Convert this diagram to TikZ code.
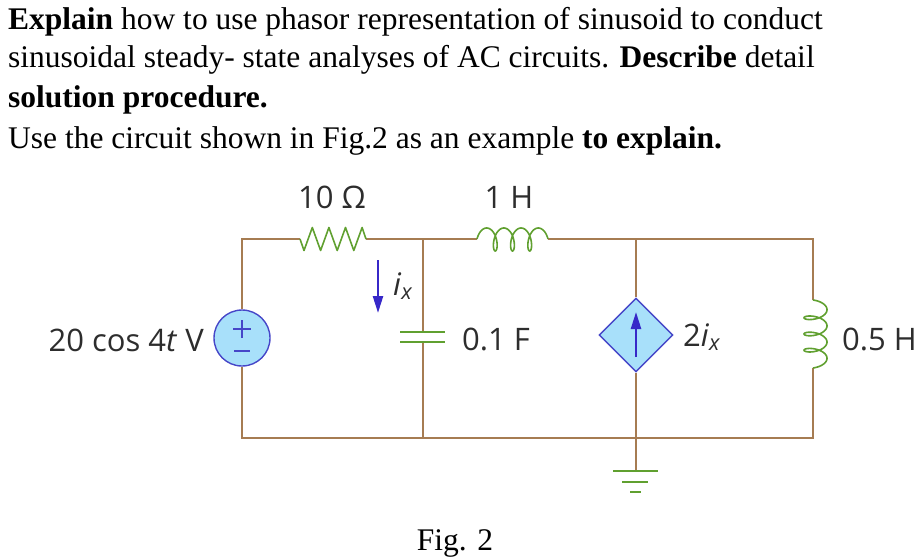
\documentclass[tikz,border=0pt]{standalone}
\usepackage{fontspec}
\setmainfont{Liberation Serif}
\newfontfamily\circfont{Open Sans}
\usetikzlibrary{arrows.meta,shapes.geometric}
\definecolor{wirecol}{RGB}{166,124,82}
\definecolor{partcol}{RGB}{96,160,48}
\definecolor{srcfill}{RGB}{168,224,250}
\definecolor{srcline}{RGB}{70,70,200}
\definecolor{arrcol}{RGB}{55,40,200}
\definecolor{lblcol}{RGB}{45,45,45}
\begin{document}
\begin{tikzpicture}[x=1pt,y=-1pt]
    \useasboundingbox (0,0) rectangle (923,558);

    % question text
    \begin{scope}[every node/.style={anchor=base west, inner sep=0pt, font=\fontsize{31.5}{31.5}\selectfont}]
        \node (q1) at (8,29) {\textbf{Explain} how to use phasor representation of sinusoid to conduct};
        \node (q2) at (8,67) {sinusoidal steady- state analyses of AC circuits. \textbf{Describe} detail};
        \node (q3) at (8,107) {\textbf{solution procedure.}};
        \node (q4) at (8,148) {Use the circuit shown in Fig.2 as an example \textbf{to explain.}};
        \node[anchor=base] (cap) at (455,550) {Fig. 2};
    \end{scope}

    % junctions
    \coordinate (tl) at (242,239);
    \coordinate (tm) at (423,239);
    \coordinate (td) at (636,239);
    \coordinate (tr) at (813,239);
    \coordinate (bl) at (242,438);
    \coordinate (bm) at (423,438);
    \coordinate (bd) at (636,438);
    \coordinate (br) at (813,438);
    \coordinate (r1a) at (300,239);
    \coordinate (r1b) at (366,239);
    \coordinate (l1a) at (477,239);
    \coordinate (l1b) at (548,239);
    \coordinate (l2a) at (813,300);
    \coordinate (l2b) at (813,368);
    \coordinate (c1a) at (423,332);
    \coordinate (c1b) at (423,342);
    \coordinate (gnd) at (636,471);

    % sources
    \node[circle, draw=srcline, fill=srcfill, line width=1.4pt, minimum size=56pt, inner sep=0pt] (vs) at (242,338) {};
    \node[diamond, draw=srcline, fill=srcfill, line width=1.4pt, minimum width=74pt, minimum height=74pt, inner sep=0pt] (dep) at (636,335) {};
    \draw[srcline, line width=1.4pt] (233,329) -- (251,329) (242,320) -- (242,338) (234,351) -- (250,351);

    % wires
    \begin{scope}[every path/.style={draw=wirecol, line width=1.6pt}]
        \path (vs.north) -- (tl) -- (r1a);
        \path (r1b) -- (tm) -- (l1a);
        \path (l1b) -- (tr) -- (l2a);
        \path (l2b) -- (br) -- (bl) -- (vs.south);
        \path (tm) -- (c1a);
        \path (c1b) -- (bm);
        \path (td) -- (dep.north);
        \path (dep.south) -- (bd) -- (gnd);
    \end{scope}

    % parts
    \begin{scope}[every path/.style={draw=partcol, line width=1.6pt, line join=round}]
        \path (r1a) -- ++(4,11.5) \foreach \k in {1,2,3} { -- ++(8.3,-23) -- ++(8.3,23) } -- ++(8.3,-23) -- (r1b);
        \path plot[domain=92.5:1347.5, samples=260, variable=\t] ({477 + 2.74*(\t-92.5)*pi/180 - 5.48*(sin(\t)-0.999)}, {239.5 + 11.5*cos(\t)});
        \path plot[domain=77.4:1362.6, samples=260, variable=\t] ({815.5 - 11.5*cos(\t)}, {300 + 2.58*(\t-77.4)*pi/180 - 5.17*(sin(\t)-0.976)});
        \path (400,332) -- (445,332);
        \path (400,342) -- (445,342);
        \path (613,471) -- (658,471);
        \path (622,482) -- (648,482);
        \path (630,492) -- (641,492);
    \end{scope}

    % current arrows
    \coordinate (ixa) at (378,260);
    \coordinate (ixb) at (378,313);
    \coordinate (dpa) at (636,357);
    \coordinate (dpb) at (636,312);
    \draw[arrcol, line width=2.4pt, -{Triangle[length=17pt,width=10pt]}] (ixa) -- (ixb);
    \draw[arrcol, line width=2.4pt, -{Triangle[length=17pt,width=10pt]}] (dpa) -- (dpb);

    % labels
    \begin{scope}[every node/.style={inner sep=0pt, text=lblcol, font=\circfont\fontsize{31}{31}\selectfont}]
        \node (lres) at (332,197) {10 Ω};
        \node (lind) at (509,197) {1 H};
        \node[anchor=west] (lcap) at (462,339) {0.1 F};
        \node[anchor=west] (ldep) at (683,337) {2\textit{i}\textsubscript{\textit{x}}};
        \node[anchor=west] (lind2) at (842,339) {0.5 H};
        \node[anchor=east] (lsrc) at (204,340) {20 cos 4\textit{t} V};
        \node[anchor=west] (lix) at (393,286) {\textit{i}\textsubscript{\textit{x}}};
    \end{scope}
\end{tikzpicture}
\end{document}
